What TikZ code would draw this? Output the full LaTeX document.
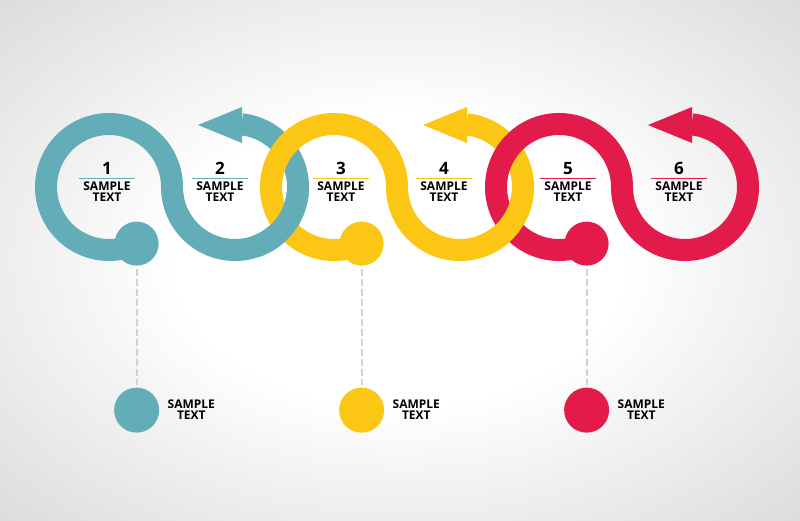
\documentclass[tikz,border=0pt]{standalone}
\usepackage{fontspec}
\setmainfont{Open Sans}
\usepackage{tikz}
\usetikzlibrary{positioning}
\definecolor{tealc}{RGB}{98,173,184}
\definecolor{yellowc}{RGB}{251,198,20}
\definecolor{redc}{RGB}{226,27,75}
\definecolor{dashgray}{RGB}{210,210,210}
\pgfdeclareradialshading{paper}{\pgfpoint{0bp}{0bp}}{color(0bp)=(white); color(14bp)=(white); color(25bp)=(black!7); color(36bp)=(black!14); color(50bp)=(black!14)}
\newcommand*{\loopunit}[3]{% xshift, colour, tag
	\begin{scope}[xshift=#1]
		\coordinate (A#3) at (109,333);
		\draw[band=#2] (A#3) ++(-64:63) coordinate (s#3)
			arc[start angle=-64, end angle=-360, radius=63pt]
			arc[start angle=180, end angle=444, radius=63pt];
		\fill[#2] (242,413) -- (198,395) -- (242,377) -- cycle;
		\node[bulb=#2] (b#3) at (s#3) {};
	\end{scope}
}
\newcommand*{\bandover}[2]{% xshift, colour
	\begin{scope}[xshift=#1]
		\draw[band=#2] (235,333) ++(290:63) arc[start angle=290, end angle=355, radius=63pt];
	\end{scope}
}
\tikzset{band/.style={draw=#1, line width=22pt},
bulb/.style={circle, fill=#1, minimum size=44pt, inner sep=0pt, outer sep=0pt},
dot/.style={circle, fill=#1, minimum size=45pt, inner sep=0pt, outer sep=0pt},
lbl/.style={font=\fontsize{12}{11}\selectfont\bfseries, align=center, text width=56pt, inner sep=0pt},
num/.style={font=\fontsize{17}{17}\selectfont\bfseries, inner sep=0pt},
rule/.style={draw=#1, line width=1.5pt},
link/.style={draw=dashgray, line width=1.8pt, dash pattern=on 7pt off 3pt}}

\begin{document}
\begin{tikzpicture}[x=1pt,y=1pt]
	\shade[shading=paper] (0,0) rectangle (800,520);
	% the three loops, each one linked into the last
	\loopunit{0pt}{tealc}{1}
	\loopunit{225pt}{yellowc}{2}
	\bandover{0pt}{tealc}
	\loopunit{450pt}{redc}{3}
	\bandover{225pt}{yellowc}
	% step labels
	\foreach \x/\n/\c in {107/1/tealc, 220/2/tealc, 341/3/yellowc, 444/4/yellowc, 568/5/redc, 679/6/redc}{
		\node[lbl] (t\n) at (\x,328.5) {SAMPLE\\TEXT};
		\draw[rule=\c] ([yshift=3pt]t\n.north west) -- ([yshift=3pt]t\n.north east);
		\node[num, above=7pt of t\n] (n\n) {\n};
	}
	% drop lines to the lower dots
	\foreach \i/\c in {1/tealc, 2/yellowc, 3/redc}{
		\node[dot=\c, below=122pt of b\i] (d\i) {};
		\draw[link, shorten <=3pt, shorten >=3pt] (b\i.south) -- (d\i.north);
		\node[lbl, right=4pt of d\i] (s\i) {SAMPLE\\TEXT};
	}
\end{tikzpicture}
\end{document}
